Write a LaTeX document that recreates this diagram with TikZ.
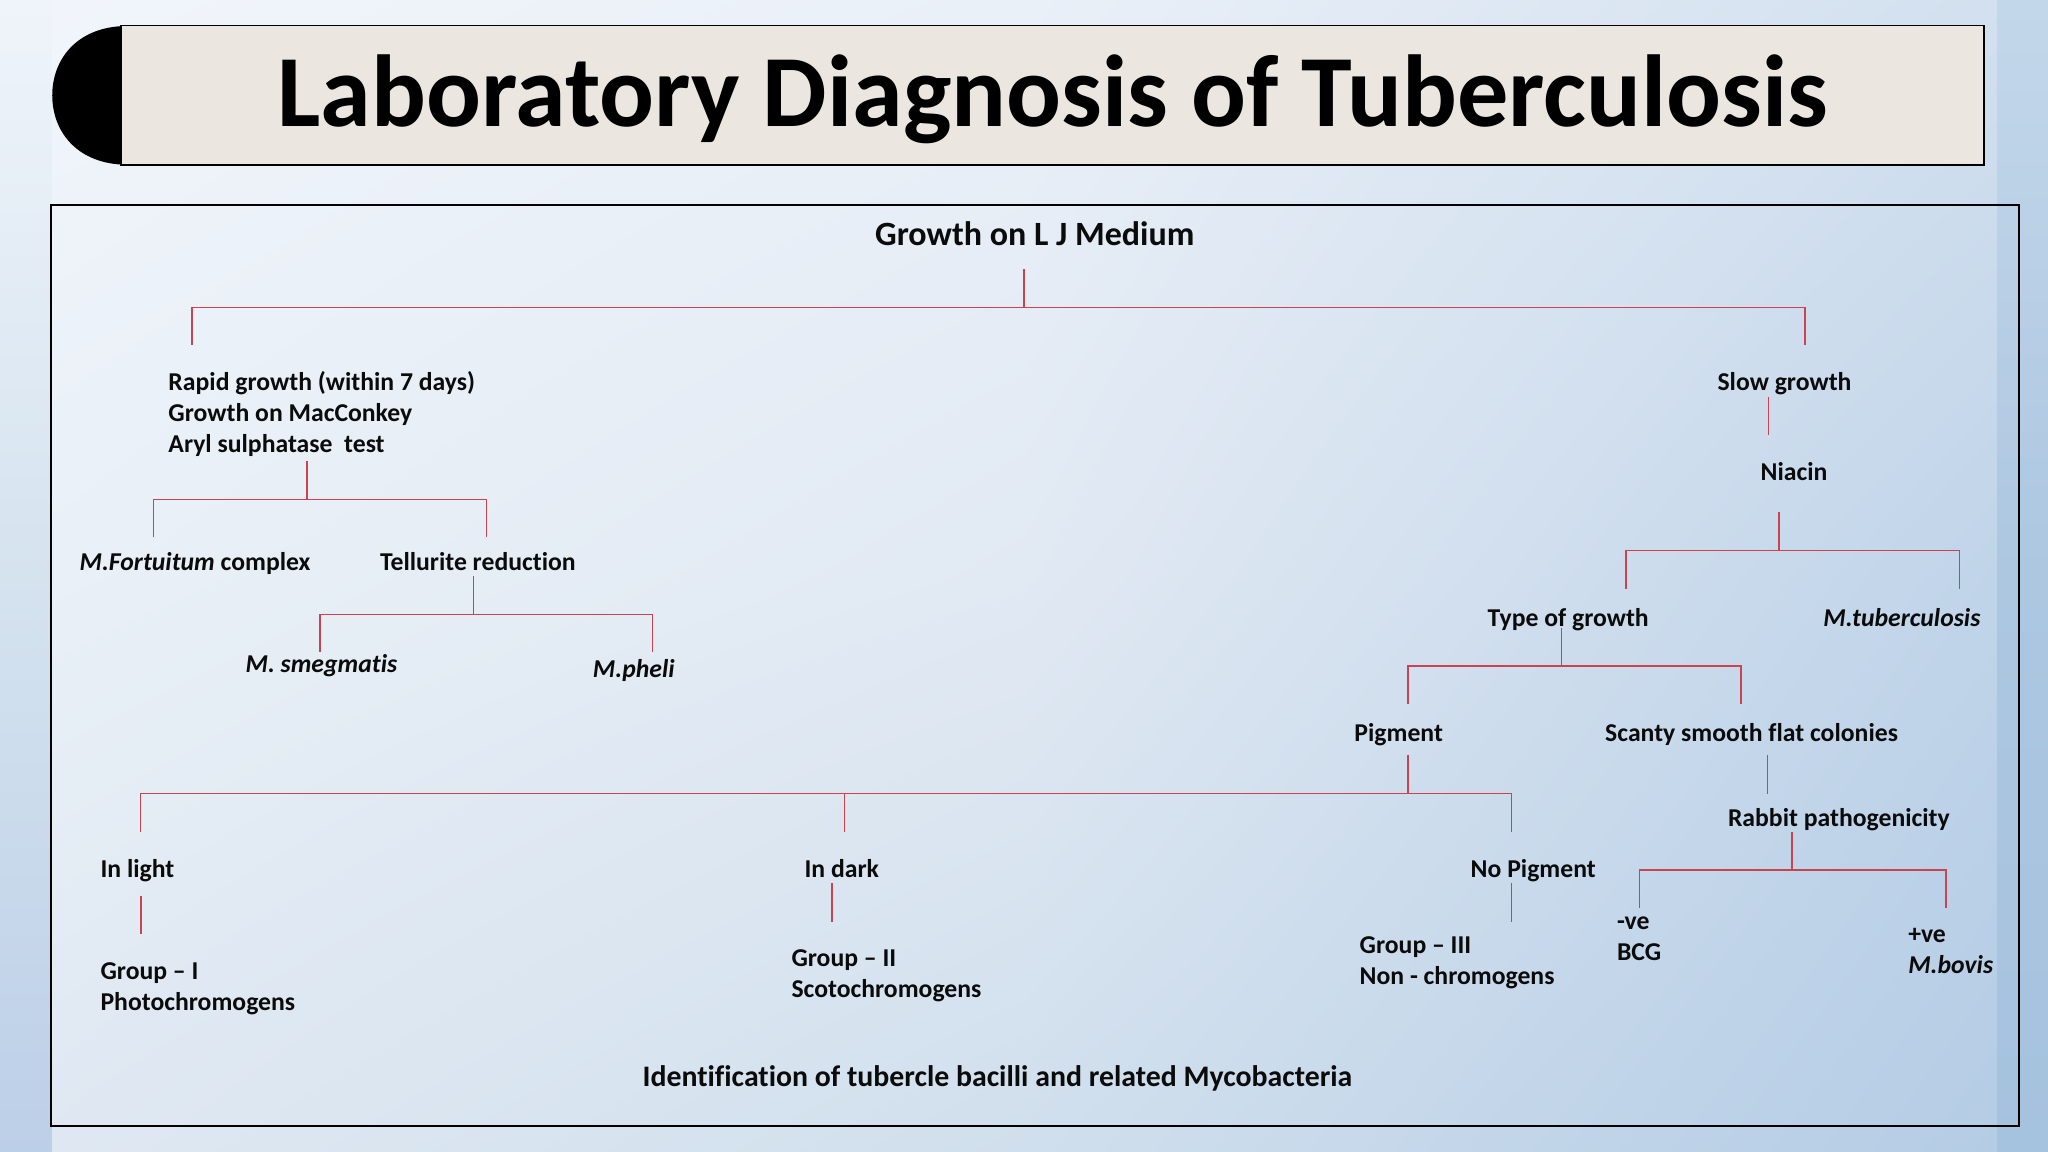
\documentclass[tikz,border=0pt]{standalone}
\usepackage{fontspec}
\setmainfont{Carlito}[Ligatures=NoCommon]
\usetikzlibrary{shadings}
\definecolor{redline}{HTML}{C9444E}
\definecolor{titlefill}{HTML}{ECE6E1}
\definecolor{inktext}{HTML}{0B0B0B}
\tikzset{
  lbl/.style={anchor=base west,inner sep=0pt,outer sep=0pt,text=inktext,align=left,font=\fontsize{25.7}{31}\selectfont\bfseries},
  big/.style={lbl,font=\fontsize{34}{40}\selectfont\bfseries},
  captext/.style={lbl,font=\fontsize{29.8}{36}\selectfont\bfseries},
  conn/.style={draw=redline,line width=1.4pt,line cap=butt,line join=miter},
  frameline/.style={draw=black,line width=1.7pt}
}
\definecolor{pa}{HTML}{F1F5FB}\definecolor{pb}{HTML}{EAF0F8}\definecolor{pc}{HTML}{D2E0EF}
\definecolor{pd}{HTML}{E9F0F7}\definecolor{pe}{HTML}{E1E9F3}\definecolor{pf}{HTML}{C0D4E9}
\definecolor{pg}{HTML}{DFE8F2}\definecolor{ph}{HTML}{D0DFED}\definecolor{pi}{HTML}{B4CCE5}
\definecolor{qa}{HTML}{EFF4FA}\definecolor{qb}{HTML}{D5E3EF}\definecolor{qc}{HTML}{BCCFE8}
\definecolor{ra}{HTML}{C3D7EA}\definecolor{rb}{HTML}{ADC7E1}\definecolor{rc}{HTML}{A5C2DE}
\begin{document}
\begin{tikzpicture}[x=1.3061pt,y=-1.3061pt]
\useasboundingbox (0,0) rectangle (1568,882);
% background
\shade[upper left=pa,upper right=pb,lower left=pd,lower right=pe] (39,0) rectangle (785.5,440.5);
\shade[upper left=pb,upper right=pc,lower left=pe,lower right=pf] (785,0) rectangle (1530,440.5);
\shade[upper left=pd,upper right=pe,lower left=pg,lower right=ph] (39,440) rectangle (785.5,882);
\shade[upper left=pe,upper right=pf,lower left=ph,lower right=pi] (785,440) rectangle (1530,882);
\shade[upper left=qa,upper right=qa,lower left=qb,lower right=qb] (0,0) rectangle (39.5,440.5);
\shade[upper left=qb,upper right=qb,lower left=qc,lower right=qc] (0,440) rectangle (39.5,882);
\shade[upper left=ra,upper right=ra,lower left=rb,lower right=rb] (1529.5,0) rectangle (1568,440.5);
\shade[upper left=rb,upper right=rb,lower left=rc,lower right=rc] (1529.5,440) rectangle (1568,882);
% title
\fill[black] (93,20) .. controls (58,22) and (40,46) .. (40,73) .. controls (40,100) and (58,124) .. (93,126) -- cycle;
\node[frameline,fill=titlefill,minimum width=1426.5*1.3061pt,minimum height=107*1.3061pt,anchor=north west,inner sep=0pt,outer sep=0pt] (titlebox) at (92.5,19.5) {};
\node[anchor=base,inner sep=0pt,text=black,font=\fontsize{102.3}{110}\selectfont\bfseries] (title) at (806,97) {Laboratory Diagnosis of Tuberculosis};
% frame
\node[frameline,minimum width=1507*1.3061pt,minimum height=705*1.3061pt,anchor=north west,inner sep=0pt,outer sep=0pt] (framebox) at (39,157) {};
% labels
\node[big] (root) at (670,188) {Growth on L J Medium};
\node[captext] (caption) at (492,832) {Identification of tubercle bacilli and related Mycobacteria};
\node[lbl] (rapid) at (129,346.5) {Rapid growth (within 7 days)\\Growth on MacConkey\\Aryl sulphatase\ \ test};
\node[lbl] (slow) at (1315,299) {Slow growth};
\node[lbl] (niacin) at (1348,368) {Niacin};
\node[lbl] (fort) at (61,437) {\textit{M.Fortuitum} complex};
\node[lbl] (tell) at (291,437) {Tellurite reduction};
\node[lbl] (type) at (1139,480) {Type of growth};
\node[lbl] (mtb) at (1396,480) {\textit{M.tuberculosis}};
\node[lbl] (smeg) at (188,515) {\textit{M. smegmatis}};
\node[lbl] (phel) at (454,519) {\textit{M.pheli}};
\node[lbl] (pig) at (1037,568) {Pigment};
\node[lbl] (scanty) at (1229,568) {Scanty smooth flat colonies};
\node[lbl] (rabbit) at (1323,633) {Rabbit pathogenicity};
\node[lbl] (light) at (77,672) {In light};
\node[lbl] (dark) at (616,672) {In dark};
\node[lbl] (nopig) at (1126,672) {No Pigment};
\node[lbl] (neg) at (1238,735) {-ve\\BCG};
\node[lbl] (pos) at (1461,745) {+ve\\\textit{M.bovis}};
\node[lbl] (g3) at (1041,754) {Group – III\\Non - chromogens};
\node[lbl] (g2) at (606,764) {Group – II\\Scotochromogens};
\node[lbl] (g1) at (77,774) {Group – I\\Photochromogens};
% connector ends
\coordinate (a0) at (784,206);\coordinate (a1) at (784,235.5);\coordinate (a2) at (147,264);\coordinate (a3) at (1382,264);
\coordinate (b0) at (235,353);\coordinate (b1) at (235,382.5);\coordinate (b2) at (117.5,411);\coordinate (b3) at (372.5,411);
\coordinate (c0) at (362.5,441);\coordinate (c1) at (362.5,470.5);\coordinate (c2) at (245,499);\coordinate (c3) at (499.5,499);
\coordinate (d0) at (1354,304);\coordinate (d1) at (1354,333);
\coordinate (e0) at (1362,392);\coordinate (e1) at (1362,421.5);\coordinate (e2) at (1245,451);\coordinate (e3) at (1500,451);
\coordinate (f0) at (1195.5,481);\coordinate (f1) at (1195.5,510);\coordinate (f2) at (1078,539);\coordinate (f3) at (1333,539);
\coordinate (g0) at (1078,578);\coordinate (g1c) at (1078,607.5);\coordinate (g2c) at (107.5,637);\coordinate (g3c) at (646.5,637);\coordinate (g4c) at (1157,637);
\coordinate (h0) at (1353,578);\coordinate (h1) at (1353,608);
\coordinate (i0) at (1372,637);\coordinate (i1) at (1372,666);\coordinate (i2) at (1255,695);\coordinate (i3) at (1490,695);
\coordinate (j0) at (108,686);\coordinate (j1) at (108,715);
\coordinate (k0) at (637,676);\coordinate (k1) at (637,706);
\coordinate (l0) at (1157,676);\coordinate (l1) at (1157,706);
% connectors
\draw[conn] (a0) -- (a1) (a2) |- (a1) -| (a3);
\draw[conn] (b0) -- (b1) (b2) |- (b1) -| (b3);
\draw[conn] (c0) -- (c1) (c2) |- (c1) -| (c3);
\draw[conn] (d0) -- (d1);
\draw[conn] (e0) -- (e1) (e2) |- (e1) -| (e3);
\draw[conn] (f0) -- (f1) (f2) |- (f1) -| (f3);
\draw[conn] (g0) -- (g1c) (g2c) |- (g1c) -| (g4c);
\draw[conn] (g3c) -- (g3c |- g1c);
\draw[conn] (h0) -- (h1);
\draw[conn] (i0) -- (i1) (i2) |- (i1) -| (i3);
\draw[conn] (j0) -- (j1);
\draw[conn] (k0) -- (k1);
\draw[conn] (l0) -- (l1);
\end{tikzpicture}
\end{document}
